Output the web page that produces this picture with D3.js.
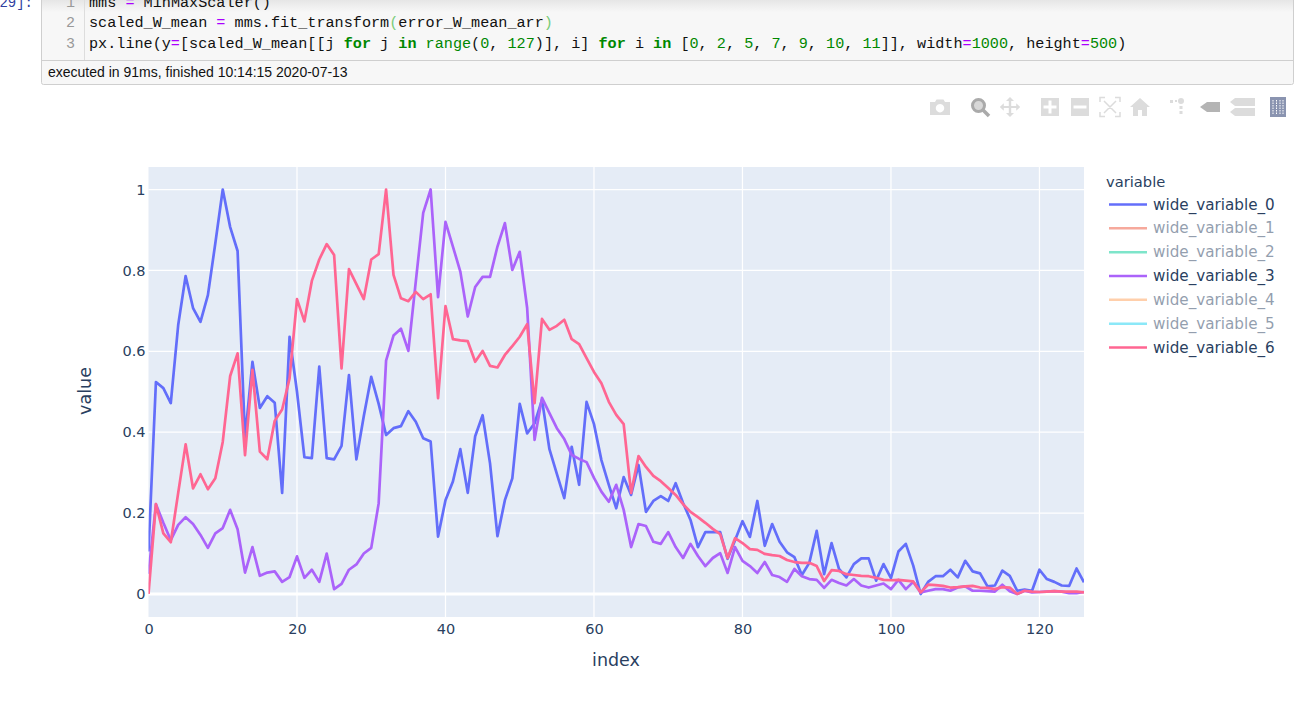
<!DOCTYPE html>
<html><head><meta charset="utf-8">
<script src="https://cdn.jsdelivr.net/npm/d3@7"></script>
<style>html,body{margin:0;padding:0;background:#fff;overflow:hidden}svg{display:block}</style>
</head><body><svg id="c" width="1316" height="704"></svg>
<script>
const wideVariable0=[0.105,0.524,0.509,0.472,0.665,0.786,0.707,0.673,0.739,0.867,1,0.907,0.848,0.385,0.574,0.46,0.489,0.473,0.25,0.636,0.5,0.338,0.336,0.562,0.336,0.333,0.366,0.541,0.333,0.44,0.537,0.47,0.393,0.41,0.415,0.452,0.426,0.385,0.377,0.142,0.232,0.278,0.358,0.25,0.39,0.442,0.323,0.143,0.232,0.286,0.47,0.397,0.422,0.48,0.358,0.297,0.237,0.364,0.27,0.475,0.42,0.331,0.27,0.212,0.289,0.245,0.319,0.203,0.23,0.242,0.23,0.274,0.225,0.183,0.116,0.153,0.153,0.153,0.087,0.133,0.18,0.141,0.23,0.119,0.173,0.129,0.103,0.091,0.047,0.077,0.156,0.049,0.126,0.062,0.041,0.074,0.088,0.088,0.033,0.074,0.039,0.105,0.124,0.07,0,0.03,0.044,0.044,0.06,0.041,0.082,0.056,0.051,0.019,0.021,0.058,0.045,0.008,0.011,0.008,0.06,0.037,0.03,0.021,0.02,0.063,0.029];
const wideVariable3=[0.05,0.222,0.176,0.133,0.171,0.19,0.173,0.146,0.114,0.15,0.163,0.208,0.16,0.053,0.116,0.045,0.053,0.056,0.03,0.042,0.093,0.04,0.06,0.03,0.1,0.012,0.025,0.06,0.073,0.1,0.114,0.224,0.577,0.639,0.656,0.601,0.772,0.942,1,0.734,0.92,0.859,0.797,0.686,0.759,0.784,0.784,0.859,0.917,0.801,0.846,0.707,0.381,0.485,0.447,0.41,0.383,0.344,0.334,0.326,0.287,0.253,0.228,0.27,0.208,0.116,0.173,0.168,0.129,0.124,0.153,0.116,0.089,0.124,0.094,0.069,0.089,0.101,0.052,0.116,0.082,0.069,0.052,0.079,0.047,0.042,0.03,0.062,0.044,0.037,0.035,0.015,0.035,0.027,0.021,0.037,0.021,0.016,0.021,0.026,0.012,0.035,0.012,0.03,0.004,0.008,0.012,0.012,0.008,0.016,0.019,0.008,0.008,0.007,0.006,0.023,0.007,0,0.008,0.004,0.005,0.006,0.007,0.006,0.002,0.002,0.005];
const wideVariable6=[0,0.222,0.15,0.128,0.25,0.37,0.261,0.296,0.259,0.286,0.376,0.539,0.595,0.343,0.554,0.352,0.333,0.428,0.456,0.533,0.729,0.674,0.774,0.827,0.865,0.838,0.558,0.803,0.766,0.729,0.827,0.84,1,0.789,0.731,0.724,0.747,0.729,0.741,0.484,0.712,0.63,0.627,0.625,0.574,0.601,0.564,0.56,0.591,0.613,0.636,0.667,0.472,0.68,0.653,0.663,0.678,0.63,0.618,0.583,0.549,0.521,0.475,0.443,0.42,0.25,0.341,0.314,0.292,0.279,0.262,0.245,0.222,0.203,0.19,0.176,0.161,0.148,0.089,0.138,0.126,0.111,0.109,0.099,0.096,0.094,0.084,0.079,0.077,0.077,0.069,0.032,0.059,0.057,0.049,0.047,0.045,0.044,0.04,0.035,0.034,0.035,0.033,0.031,0.004,0.023,0.022,0.02,0.016,0.017,0.019,0.02,0.016,0.015,0.012,0.017,0.016,0,0.008,0.006,0.005,0.006,0.007,0.006,0.006,0.006,0.004];
const legendNames=["wide_variable_0","wide_variable_1","wide_variable_2","wide_variable_3","wide_variable_4","wide_variable_5","wide_variable_6"];
const legendColors=["#636efa","#EF553B","#00cc96","#ab63fa","#FFA15A","#19d3f3","#FF6692"];
const legendShown=[true,false,false,true,false,false,true];
const xTicks=[0,20,40,60,80,100,120];
const yTicks=[0,0.2,0.4,0.6,0.8,1];
const yTickLabels=["0","0.2","0.4","0.6","0.8","1"];
const drawnSeries=[{v:wideVariable0,c:legendColors[0]},{v:wideVariable3,c:legendColors[3]},{v:wideVariable6,c:legendColors[6]}];

const svg=d3.select("#c");
const ink="#2a3f5f",sans="'DejaVu Sans',Verdana,sans-serif",mono="'Liberation Mono',monospace";

/* notebook cell */
const defs=svg.append("defs");
const grad=defs.append("linearGradient").attr("id","shade").attr("x1",0).attr("x2",0).attr("y1",0).attr("y2",1);
grad.append("stop").attr("offset",0).attr("stop-color","#e6e6e6");
grad.append("stop").attr("offset",1).attr("stop-color","#f7f7f7");
svg.append("rect").attr("x",41.5).attr("y",-3).attr("width",1252).attr("height",87.5).attr("rx",2).attr("fill","#f7f7f7").attr("stroke","#cfcfcf");
svg.append("rect").attr("x",42).attr("y",0).attr("width",1251).attr("height",12).attr("fill","url(#shade)");
svg.append("line").attr("x1",42).attr("x2",1293).attr("y1",60.5).attr("y2",60.5).attr("stroke","#cfcfcf");
svg.append("line").attr("x1",84.5).attr("x2",84.5).attr("y1",0).attr("y2",60).attr("stroke","#ddd");
svg.append("text").attr("x",33).attr("y",7).attr("text-anchor","end").attr("font-family",mono).attr("font-size",14).attr("fill","#303f9f").text("In [29]:");
const P="#a0f",G="#080",D="#111",L="#7c7";
const codeLines=[
 {y:7,n:"1",t:[["mms ",D],["=",P],[" MinMaxScaler()",D]]},
 {y:27,n:"2",t:[["scaled_W_mean ",D],["=",P],[" mms.fit_transform",D],["(",L],["error_W_mean_arr",D],[")",L]]},
 {y:48,n:"3",t:[["px.line(y",D],["=",P],["[scaled_W_mean[[j ",D],["for",G,1],[" j ",D],["in",G,1],[" ",D],["range",G],["(",D],["0",G],[", ",D],["127",G],[")], ",D],["i",D],["] ",D],["for",G,1],[" i ",D],["in",G,1],[" [",D],["0",G],[", ",D],["2",G],[", ",D],["5",G],[", ",D],["7",G],[", ",D],["9",G],[", ",D],["10",G],[", ",D],["11",G],["]], width",D],["=",P],["1000",G],[", height",D],["=",P],["500",G],[")",D]]}
];
codeLines.forEach(l=>{
 svg.append("text").attr("x",75).attr("y",l.y).attr("text-anchor","end").attr("font-family",mono).attr("font-size",15).attr("fill","#999").text(l.n);
 const t=svg.append("text").attr("x",89).attr("y",l.y).attr("font-family",mono).attr("font-size",15.17).style("white-space","pre");
 l.t.forEach(s=>t.append("tspan").attr("fill",s[1]).attr("font-weight",s[2]?"bold":"normal").text(s[0]));
});
svg.append("text").attr("x",48).attr("y",77).attr("font-family","'Liberation Sans',Arial,sans-serif").attr("font-size",14).attr("fill","#111").text("executed in 91ms, finished 10:14:15 2020-07-13");

/* modebar */
const bar=svg.append("g");
const soft="#dcdcdc";
bar.append("path").attr("fill",soft).attr("fill-rule","evenodd").attr("d","M930 102h5l1.5-2.5h7l1.5 2.5h5v13h-20zM940 104a4.2 4.2 0 1 0 .01 0z");
bar.append("circle").attr("cx",978.5).attr("cy",105.5).attr("r",6).attr("fill","#d8d8d8").attr("stroke","#aaa").attr("stroke-width",3);
bar.append("path").attr("d","M983 110l6 6").attr("stroke","#aaa").attr("stroke-width",3.5);
bar.append("path").attr("fill",soft).attr("d","M1010 97l4 4h-2.8v5h5v-2.8l4 3.8-4 3.8v-2.8h-5v5h2.8l-4 4-4-4h2.8v-5h-5v2.8l-4-3.8 4-3.8v2.8h5v-5h-2.8z");
bar.append("path").attr("fill",soft).attr("fill-rule","evenodd").attr("d","M1041 98h18v18h-18zM1048.5 100.5v5h-5v3h5v5h3v-5h5v-3h-5v-5z");
bar.append("path").attr("fill",soft).attr("fill-rule","evenodd").attr("d","M1071 98h18v18h-18zM1073.5 105.5v3h13v-3z");
bar.append("path").attr("fill","none").attr("stroke",soft).attr("stroke-width",1.5).attr("d","M1100 102v-4.5h5M1115 97.5h5v4.5M1120 112v4.5h-5M1105 116.5h-5v-4.5M1104 101l12 12M1116 101l-12 12");
bar.append("path").attr("fill",soft).attr("d","M1140 98l10 9h-3v9h-5v-6h-4v6h-5v-9h-3z");
bar.append("path").attr("fill",soft).attr("d","M1170 100h3v3h-3zM1175 100h2v2h-2zM1181 98a3 3 0 1 1 0 6a3 3 0 1 1 0-6zM1179.5 106h3v3h-3zM1179.5 111h3v3h-3z");
bar.append("path").attr("fill","#b4b4b4").attr("d","M1200 107l7-5h13v10h-13z");
bar.append("path").attr("fill",soft).attr("d","M1230 102l5-4h20v8h-20zM1230 112l5-4h20v8h-20z");
bar.append("rect").attr("x",1270).attr("y",97).attr("width",16).attr("height",20).attr("fill","#8a94b0");
bar.append("path").attr("stroke","#fff").attr("stroke-width",1).attr("stroke-dasharray","1.5 1").attr("d","M1273 100v14M1276.5 100v14M1280 100v14M1283 100v14");

/* plot */
const plotLeft=148.5,plotRight=1084,plotTop=167,plotBottom=617;
const x=d3.scaleLinear().domain([0,126]).range([plotLeft,plotRight]);
const y=d3.scaleLinear().domain([0,1]).range([594,189.5]);
svg.append("rect").attr("x",plotLeft).attr("y",plotTop).attr("width",plotRight-plotLeft).attr("height",plotBottom-plotTop).attr("fill","#E5ECF6");
defs.append("clipPath").attr("id","plotclip").append("rect").attr("x",plotLeft).attr("y",plotTop).attr("width",plotRight-plotLeft).attr("height",plotBottom-plotTop);

svg.append("g").selectAll("line").data(xTicks.filter(d=>d>0)).join("line")
 .attr("x1",d=>x(d)).attr("x2",d=>x(d)).attr("y1",plotTop).attr("y2",plotBottom).attr("stroke","#fff").attr("stroke-width",1.25);
svg.append("g").selectAll("line").data(yTicks).join("line")
 .attr("x1",plotLeft).attr("x2",plotRight).attr("y1",d=>y(d)).attr("y2",d=>y(d)).attr("stroke","#fff").attr("stroke-width",d=>d===0?3:1.25);

const lineGen=d3.line().x((d,i)=>x(i)).y(d=>y(d));
svg.append("g").attr("clip-path","url(#plotclip)").selectAll("path").data(drawnSeries).join("path")
 .attr("d",d=>lineGen(d.v)).attr("fill","none").attr("stroke",d=>d.c).attr("stroke-width",2.7).attr("stroke-linejoin","round");

const xAxis=svg.append("g").attr("transform",`translate(0,${plotBottom})`).call(d3.axisBottom(x).tickValues(xTicks).tickSize(0).tickPadding(7));
const yAxis=svg.append("g").attr("transform",`translate(${plotLeft},0)`).call(d3.axisLeft(y).tickValues(yTicks).tickFormat((d,i)=>yTickLabels[i]).tickSize(0).tickPadding(3));
[xAxis,yAxis].forEach(a=>{a.select(".domain").remove();a.selectAll("text").attr("font-family",sans).attr("font-size",14.5).attr("fill",ink);});

svg.append("text").attr("x",616).attr("y",666).attr("text-anchor","middle").attr("font-family",sans).attr("font-size",17.5).attr("fill",ink).text("index");
svg.append("text").attr("transform","translate(91,391) rotate(-90)").attr("text-anchor","middle").attr("font-family",sans).attr("font-size",17.5).attr("fill",ink).text("value");

/* legend */
svg.append("text").attr("x",1106).attr("y",187).attr("font-family",sans).attr("font-size",14.7).attr("fill",ink).text("variable");
const rowY=d3.scalePoint().domain(legendNames).range([204.5,347.5]);
const rows=svg.append("g").selectAll("g").data(legendNames).join("g").attr("opacity",(d,i)=>legendShown[i]?1:0.5);
rows.append("line").attr("x1",1109).attr("x2",1147).attr("y1",d=>rowY(d)).attr("y2",d=>rowY(d)).attr("stroke",(d,i)=>legendColors[i]).attr("stroke-width",2.5);
rows.append("text").attr("x",1153).attr("y",d=>rowY(d)+5).attr("font-family",sans).attr("font-size",15.2).attr("fill",ink).text(d=>d);
</script></body></html>
